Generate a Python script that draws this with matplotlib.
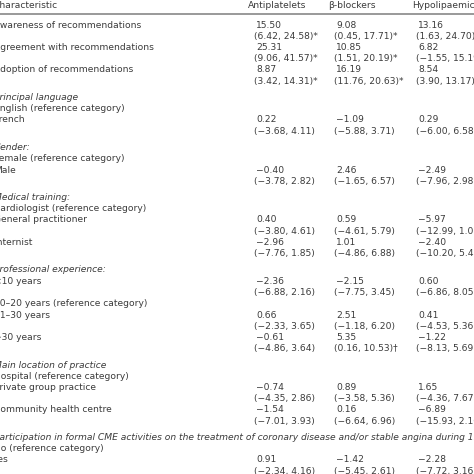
import matplotlib
matplotlib.use("Agg")
import matplotlib.pyplot as plt

W = H = 474
columns = ["Antiplatelets", "\u03b2-blockers", "Hypolipaemics"]

labels = ["Awareness of recommendations", "Agreement with recommendations", "Adoption of recommendations",
          "Principal language", "English (reference category)", "French",
          "Gender:", "Female (reference category)", "Male",
          "Medical training:", "Cardiologist (reference category)", "General practitioner", "Internist",
          "Professional experience:", "<10 years", "10\u201320 years (reference category)", "21\u201330 years", ">30 years",
          "Main location of practice", "Hospital (reference category)", "Private group practice", "Community health centre",
          "Participation in formal CME activities on the treatment of coronary disease and/or stable angina during 1998",
          "No (reference category)", "Yes"]
italic = [False]*3 + [True, False, False, True, False, False, True, False, False, False,
          True, False, False, False, False, True, False, False, False, True, False, False]
gap = [False, False, False, True, False, False, True, False, False, True, False, False, False,
       True, False, False, False, False, True, False, False, False, True, False, False]
antiplatelets = ["15.50|(6.42, 24.58)*", "25.31|(9.06, 41.57)*", "8.87|(3.42, 14.31)*", "", "", "0.22|(\u22123.68, 4.11)",
                 "", "", "\u22120.40|(\u22123.78, 2.82)", "", "", "0.40|(\u22123.80, 4.61)", "\u22122.96|(\u22127.76, 1.85)",
                 "", "\u22122.36|(\u22126.88, 2.16)", "", "0.66|(\u22122.33, 3.65)", "\u22120.61|(\u22124.86, 3.64)",
                 "", "", "\u22120.74|(\u22124.35, 2.86)", "\u22121.54|(\u22127.01, 3.93)", "", "", "0.91|(\u22122.34, 4.16)"]
beta = ["9.08|(0.45, 17.71)*", "10.85|(1.51, 20.19)*", "16.19|(11.76, 20.63)*", "", "", "\u22121.09|(\u22125.88, 3.71)",
        "", "", "2.46|(\u22121.65, 6.57)", "", "", "0.59|(\u22124.61, 5.79)", "1.01|(\u22124.86, 6.88)",
        "", "\u22122.15|(\u22127.75, 3.45)", "", "2.51|(\u22121.18, 6.20)", "5.35|(0.16, 10.53)\u2020",
        "", "", "0.89|(\u22123.58, 5.36)", "0.16|(\u22126.64, 6.96)", "", "", "\u22121.42|(\u22125.45, 2.61)"]
hypo = ["13.16|(1.63, 24.70)*", "6.82|(\u22121.55, 15.19)*", "8.54|(3.90, 13.17)*", "", "", "0.29|(\u22126.00, 6.58)",
        "", "", "\u22122.49|(\u22127.96, 2.98)", "", "", "\u22125.97|(\u221212.99, 1.05)", "\u22122.40|(\u221210.20, 5.40)",
        "", "0.60|(\u22126.86, 8.05)", "", "0.41|(\u22124.53, 5.36)", "\u22121.22|(\u22128.13, 5.69)",
        "", "", "1.65|(\u22124.36, 7.67)", "\u22126.89|(\u221215.93, 2.16)", "", "", "\u22122.28|(\u22127.72, 3.16)"]

fig = plt.figure(figsize=(4.74, 4.74), dpi=100)
fig.patch.set_facecolor("white")
col = "#3a3a3a"
fs = 6.6
fam = "DejaVu Sans"

def Y(py):
    return 1 - py / H

def X(px):
    return px / W

fig.text(X(-6), Y(5), "Characteristic", fontsize=fs, color=col, va="center", family=fam)
hx = [248, 328, 412]
for x, c in zip(hx, columns):
    fig.text(X(x), Y(5), c, fontsize=fs, color=col, va="center", family=fam)
fig.add_artist(plt.Line2D([0, 1], [Y(13.5), Y(13.5)], color="#888888", lw=1.2, transform=fig.transFigure))

d = 11.25
g = 5.0
y = 25
vx = [254, 334, 416]
for i, lab in enumerate(labels):
    if gap[i]:
        y += g
    fig.text(X(-6), Y(y), lab, fontsize=fs, color=col, va="center", family=fam,
             style="italic" if italic[i] else "normal")
    vals = [antiplatelets[i], beta[i], hypo[i]]
    has = any(vals)
    for x, v in zip(vx, vals):
        if v:
            a, b = v.split("|")
            fig.text(X(x + 2), Y(y), a, fontsize=fs, color=col, va="center", family=fam)
            fig.text(X(x), Y(y + d), b, fontsize=fs, color=col, va="center", family=fam)
    y += 2 * d if has else d

fig.savefig("out.png", dpi=100)
